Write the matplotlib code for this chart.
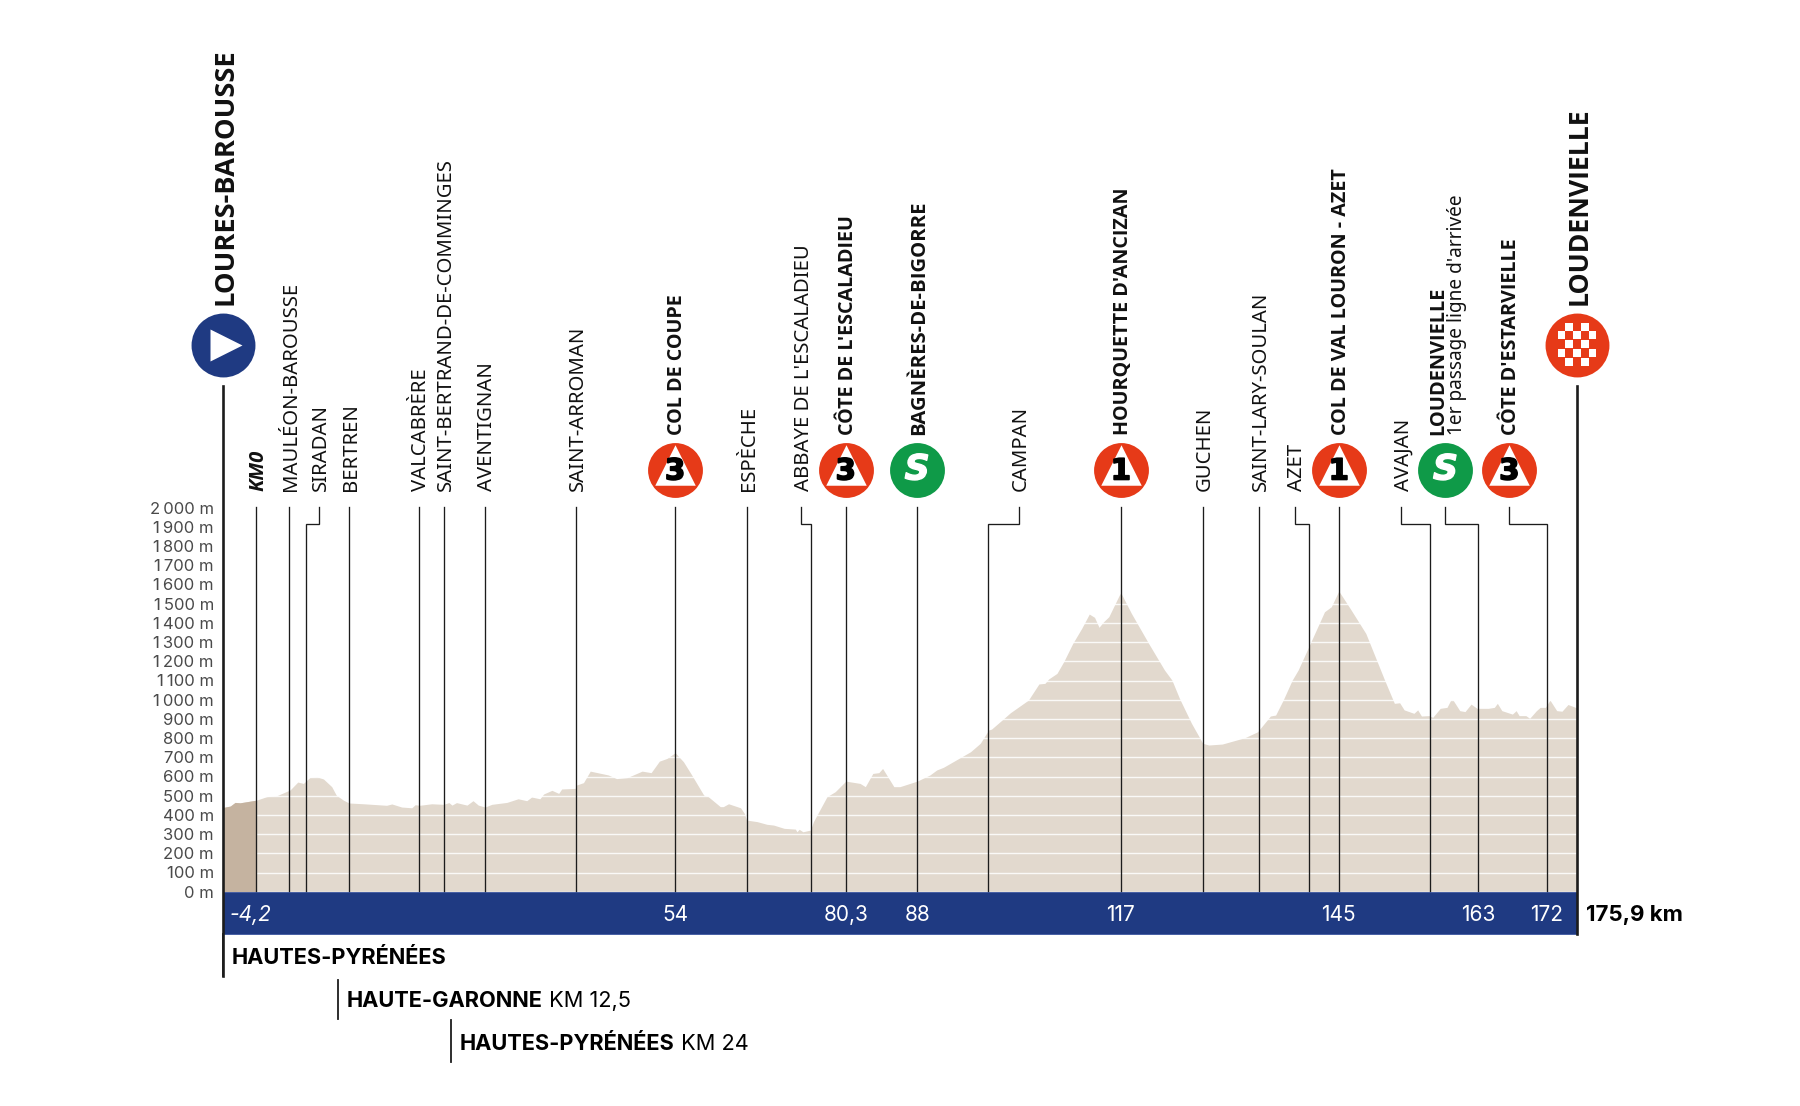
import matplotlib
matplotlib.use("Agg")
import matplotlib.pyplot as plt
import matplotlib.patheffects as pe
from matplotlib.patches import Rectangle
from matplotlib.transforms import Affine2D, blended_transform_factory
import numpy as np

W, H = 1800, 1106

# profile
profile_km = [-4.2, -3.3, -2.66, -2.0, 0.2, 1.55, 2.9, 4.66, 5.68, 6.43, 7.3, 8.2, 9.1, 10.2, 10.8, 11.75, 12.5,
              14.4, 17.5, 18.2, 19.5, 20.85, 21.3, 21.9, 23.5, 25.06, 25.8, 26.2, 26.8, 28.2, 29.0, 29.7, 30.6,
              31.5, 33.5, 35.0, 36.15, 36.8, 37.9, 38.4, 39.5, 40.4, 40.8, 42.6, 42.8, 43.7, 44.6, 47.0, 48.1,
              49.5, 51.5, 52.7, 53.8, 54.8, 55.9, 57.0, 58.1, 59.7, 60.3, 61.9, 62.3, 63.0, 64.6, 65.1, 65.4,
              66.8, 68.1, 69.0, 70.4, 71.9, 72.1, 72.4, 72.9, 73.9, 74.3, 76.1, 77.2, 78.6, 80.5, 81.2, 82.2,
              83.0, 83.5, 85.0, 85.8, 88.1, 89.8, 90.7, 91.6, 95.2, 96.5, 97.6, 98.0, 99.6, 100.5, 102.9, 104.3,
              105.1, 105.6, 106.7, 107.6, 108.8, 110.0, 111.0, 111.7, 112.3, 112.9, 113.6, 115.0, 115.2, 116.6,
              118.9, 121.0, 122.0, 123.0, 124.6, 126.1, 126.9, 128.7, 131.7, 133.4, 135.1, 135.8, 136.8, 138.0,
              138.8, 140.4, 142.3, 143.2, 144.2, 145.7, 147.8, 150.3, 151.6, 152.3, 152.9, 154.2, 154.7, 155.2,
              156.2, 156.7, 157.7, 158.6, 159.1, 159.4, 160.3, 161.0, 161.8, 162.6, 164.1, 164.9, 165.3, 165.9,
              167.3, 167.8, 168.2, 169.1, 169.6, 170.5, 171.0, 171.7, 172.3, 173.2, 173.9, 174.7, 175.9]
profile_m = [439, 446, 465, 463, 477, 495, 500, 530, 571, 564, 595, 599, 587, 547, 503, 477, 462,
             458, 450, 457, 441, 437, 453, 450, 458, 455, 464, 451, 464, 451, 474, 451, 441,
             455, 465, 484, 474, 493, 484, 509, 528, 512, 535, 538, 556, 568, 628, 608, 589,
             594, 628, 620, 680, 694, 724, 677, 608, 503, 495, 443, 443, 458, 437, 408, 373,
             365, 351, 347, 330, 326, 312, 325, 312, 321, 365, 495, 521, 576, 564, 547, 616,
             620, 642, 547, 547, 576, 608, 634, 648, 729, 773, 842, 847, 901, 932, 998, 1082,
             1085, 1108, 1137, 1198, 1293, 1372, 1446, 1429, 1377, 1406, 1432, 1545, 1557, 1450,
             1293, 1155, 1102, 1007, 877, 773, 764, 769, 802, 833, 915, 920, 998, 1102,
             1155, 1293, 1458, 1484, 1566, 1476, 1345, 1102, 981, 984, 947, 929, 947, 915,
             917, 908, 955, 960, 998, 998, 943, 938, 977, 955, 955, 960, 981, 943,
             925, 943, 917, 917, 903, 943, 960, 960, 998, 943, 940, 975, 957]

# plain places: name, where the line meets the road, where it starts at the top
place_names = ["MAULÉON-BAROUSSE", "SIRADAN", "BERTREN", "VALCABRÈRE", "SAINT-BERTRAND-DE-COMMINGES", "AVENTIGNAN",
               "SAINT-ARROMAN", "ESPÈCHE", "ABBAYE DE L'ESCALADIEU", "CAMPAN", "GUCHEN", "SAINT-LARY-SOULAN",
               "AZET", "AVAJAN"]
place_km = [4.5, 6.8, 12.5, 21.8, 25.1, 30.6, 42.7, 65.4, 74.0, 97.5, 126.1, 133.6, 140.3, 156.3]
place_top_km = [4.5, 8.5, 12.5, 21.8, 25.1, 30.6, 42.7, 65.4, 72.7, 101.6, 126.1, 133.6, 138.4, 152.5]

# climbs and sprints
climb_names = ["COL DE COUPE", "CÔTE DE L'ESCALADIEU", "HOURQUETTE D'ANCIZAN", "COL DE VAL LOURON - AZET", "CÔTE D'ESTARVIELLE"]
climb_km = [55.9, 78.6, 115.2, 144.2, 171.9]
climb_top_km = [55.9, 78.6, 115.2, 144.2, 166.9]
climb_cat = ["3", "3", "1", "1", "3"]
sprint_names = ["BAGNÈRES-DE-BIGORRE", "LOUDENVIELLE"]
sprint_km = [88.1, 162.7]
sprint_top_km = [88.1, 158.4]

bar_labels = ["54", "80,3", "88", "117", "145", "163", "172"]
bar_label_km = [55.9, 78.6, 88.1, 115.2, 144.2, 162.7, 171.9]

y_ticks = list(range(0, 2001, 100))
y_labels = ["%d m" % v if v < 1000 else "%d\u2009%03d m" % (v // 1000, v % 1000) for v in y_ticks]

BLUE = "#1f3a82"
RED = "#e63a18"
GREEN = "#0f9a48"
SAND = "#e2d9ce"
SAND_DARK = "#c5b3a0"
INK = "#1c1c1c"
SANS = "Noto Sans"
HEAVY = "Open Sans"
WIDE = "Inter"

fig = plt.figure(figsize=(W / 100, H / 100), dpi=100, facecolor="white")
ax = fig.add_axes([223.5 / W, (H - 891.7) / H, (1577 - 223.5) / W, 384 / H])
ax.patch.set_alpha(0)
ax.set_xlim(-4.2, 175.9)
ax.set_ylim(0, 2000)
for s in ax.spines.values():
    s.set_visible(False)
ax.set_xticks([])
ax.set_yticks(y_ticks)
ax.set_yticklabels(y_labels, family=WIDE, fontsize=12, color="#4a4a4a")
ax.tick_params(axis="y", length=0, pad=7)
ax.grid(axis="y", color="white", lw=1.0, alpha=0.85, zorder=2)
ax.set_axisbelow(False)

# pixel transform for the layout bits, x in km + y in pixels for the marks
px = Affine2D().scale(1, -1).translate(0, H)
kmy = blended_transform_factory(ax.transData, px)

km = np.array(profile_km)
elev = np.array(profile_m)
ax.fill_between(km, 0, elev, color=SAND, lw=0, zorder=1)
neutral = km <= 0.2
ax.fill_between(km[neutral], 0, elev[neutral], color=SAND_DARK, lw=0, zorder=3)

ROAD_Y = 891.7
TOP_Y = 506.7
ELBOW_Y = 524
START_X = 222.6
FINISH_X = 1577


def mark_line(base, top):
    if base == top:
        xs, ys = [base, base], [ROAD_Y, TOP_Y]
    else:
        xs, ys = [base, base, top, top], [ROAD_Y, ELBOW_Y, ELBOW_Y, TOP_Y]
    ax.plot(xs, ys, transform=kmy, color=INK, lw=0.95, clip_on=False, zorder=4, solid_joinstyle="miter")


def up_text(x, y, txt, size, weight="normal", style="normal", family=SANS, trans=kmy):
    # baseline sits half a cap height right of the line so caps are centred on it
    return ax.annotate(txt, xy=(x, y), xycoords=trans, xytext=(0.357 * size, 0), textcoords="offset points",
                       rotation=90, rotation_mode="anchor", ha="left", va="baseline", annotation_clip=False,
                       fontsize=size, fontweight=weight, fontstyle=style, family=family, color="#111111")


# km 0
mark_line(0.1, 0.1)
up_text(0.1, 491, "KM0", 14.5, weight="bold", style="italic", family=HEAVY)

for name, b, t in zip(place_names, place_km, place_top_km):
    mark_line(b, t)
    up_text(t, 491, name, 14.6)

ICON_Y = 469.5
heavy_digit = [pe.withStroke(linewidth=1.2, foreground="black")]
heavy_s = [pe.withStroke(linewidth=1.0, foreground="white")]
for name, b, t, cat in zip(climb_names, climb_km, climb_top_km, climb_cat):
    mark_line(b, t)
    ax.scatter([t], [ICON_Y], s=1560, color=RED, lw=0, transform=kmy, clip_on=False, zorder=5)
    ax.scatter([t], [ICON_Y - 4.5], s=850, marker="^", color="white", lw=0, transform=kmy, clip_on=False, zorder=6)
    ax.text(t, ICON_Y + 2, cat, transform=kmy, ha="center", va="center", fontsize=21, fontweight="bold",
            family="DejaVu Sans", color="black", zorder=7, clip_on=False, path_effects=heavy_digit)
    up_text(t, 435, name, 14.2, weight="bold", family=HEAVY)

for name, b, t in zip(sprint_names, sprint_km, sprint_top_km):
    mark_line(b, t)
    ax.scatter([t], [ICON_Y], s=1560, color=GREEN, lw=0, transform=kmy, clip_on=False, zorder=5)
    ax.text(t, ICON_Y, "S", transform=kmy, ha="center", va="center", fontsize=25, fontweight="bold", fontstyle="oblique",
            family="DejaVu Sans", color="white", zorder=7, clip_on=False, path_effects=heavy_s)

up_text(917.3, 435, sprint_names[0], 14.6, weight="bold", family=HEAVY, trans=px)
up_text(1436, 435, sprint_names[1], 14.4, weight="bold", family=HEAVY, trans=px)
up_text(1455, 435, "1er passage ligne d'arrivée", 13.7, family=SANS, trans=px)

# blue band
ax.add_patch(Rectangle((START_X, ROAD_Y), FINISH_X - START_X, 42.5, transform=px, facecolor=BLUE, edgecolor="#3c56a0", lw=0.6,
                       clip_on=False, zorder=5))
for lab, k in zip(bar_labels, bar_label_km):
    ax.text(k, 915, lab, transform=kmy, ha="center", va="center", fontsize=15, family=WIDE, color="white", zorder=6, clip_on=False)
ax.text(230, 915, "-4,2", transform=px, ha="left", va="center", fontsize=15, fontstyle="italic", family=WIDE, color="white", zorder=6)
ax.text(1586, 915, "175,9 km", transform=px, ha="left", va="center", fontsize=16, fontweight="bold", family=WIDE, color="black")

# start and finish
ax.plot([START_X, START_X], [385.5, 976], transform=px, color=INK, lw=1.9, clip_on=False, zorder=7)
ax.plot([FINISH_X, FINISH_X], [385.5, 934], transform=px, color=INK, lw=1.9, clip_on=False, zorder=7)
ax.scatter([START_X], [344.5], s=2116, color=BLUE, lw=0, transform=px, clip_on=False, zorder=5)
ax.scatter([START_X + 3.7], [345], s=530, marker=">", color="white", lw=0, transform=px, clip_on=False, zorder=6)
ax.scatter([FINISH_X], [344.5], s=2116, color=RED, lw=0, transform=px, clip_on=False, zorder=5)
cell_w, cell_h = 7.7, 8.7
for row in range(5):
    for col in range(5):
        if (row + col) % 2 == 1:
            ax.add_patch(Rectangle((FINISH_X + (col - 2.5) * cell_w, 344.5 + (row - 2.5) * cell_h), cell_w, cell_h * 0.92,
                                   transform=px, facecolor="white", lw=0, clip_on=False, zorder=6))
up_text(START_X, 305, "LOURES-BAROUSSE", 19.6, weight="bold", family=HEAVY, trans=px)
up_text(FINISH_X, 305, "LOUDENVIELLE", 19.2, weight="bold", family=HEAVY, trans=px)

# departments below the band
renderer = fig.canvas.get_renderer()
dept_bold = ["HAUTES-PYRÉNÉES", "HAUTE-GARONNE", "HAUTES-PYRÉNÉES"]
dept_km = ["", " KM 12,5", " KM 24"]
dept_x = [START_X, 337.5, 450.6]
dept_top = [934, 980, 1020]
dept_bottom = [976, 1019, 1062]
dept_y = [958, 1001, 1044.5]
for name, extra, x, y0, y1, y in zip(dept_bold, dept_km, dept_x, dept_top, dept_bottom, dept_y):
    ax.plot([x, x], [y0, y1], transform=px, color=INK, lw=1.3, clip_on=False)
    t = ax.text(x + 9.5, y, name, transform=px, ha="left", va="center", fontsize=15.7, fontweight="bold", family=WIDE, color="black")
    if extra:
        end = t.get_window_extent(renderer).x1
        ax.text(end, y, extra, transform=px, ha="left", va="center", fontsize=15.7, family=WIDE, color="black")

fig.savefig("out.png", dpi=100, facecolor="white")
